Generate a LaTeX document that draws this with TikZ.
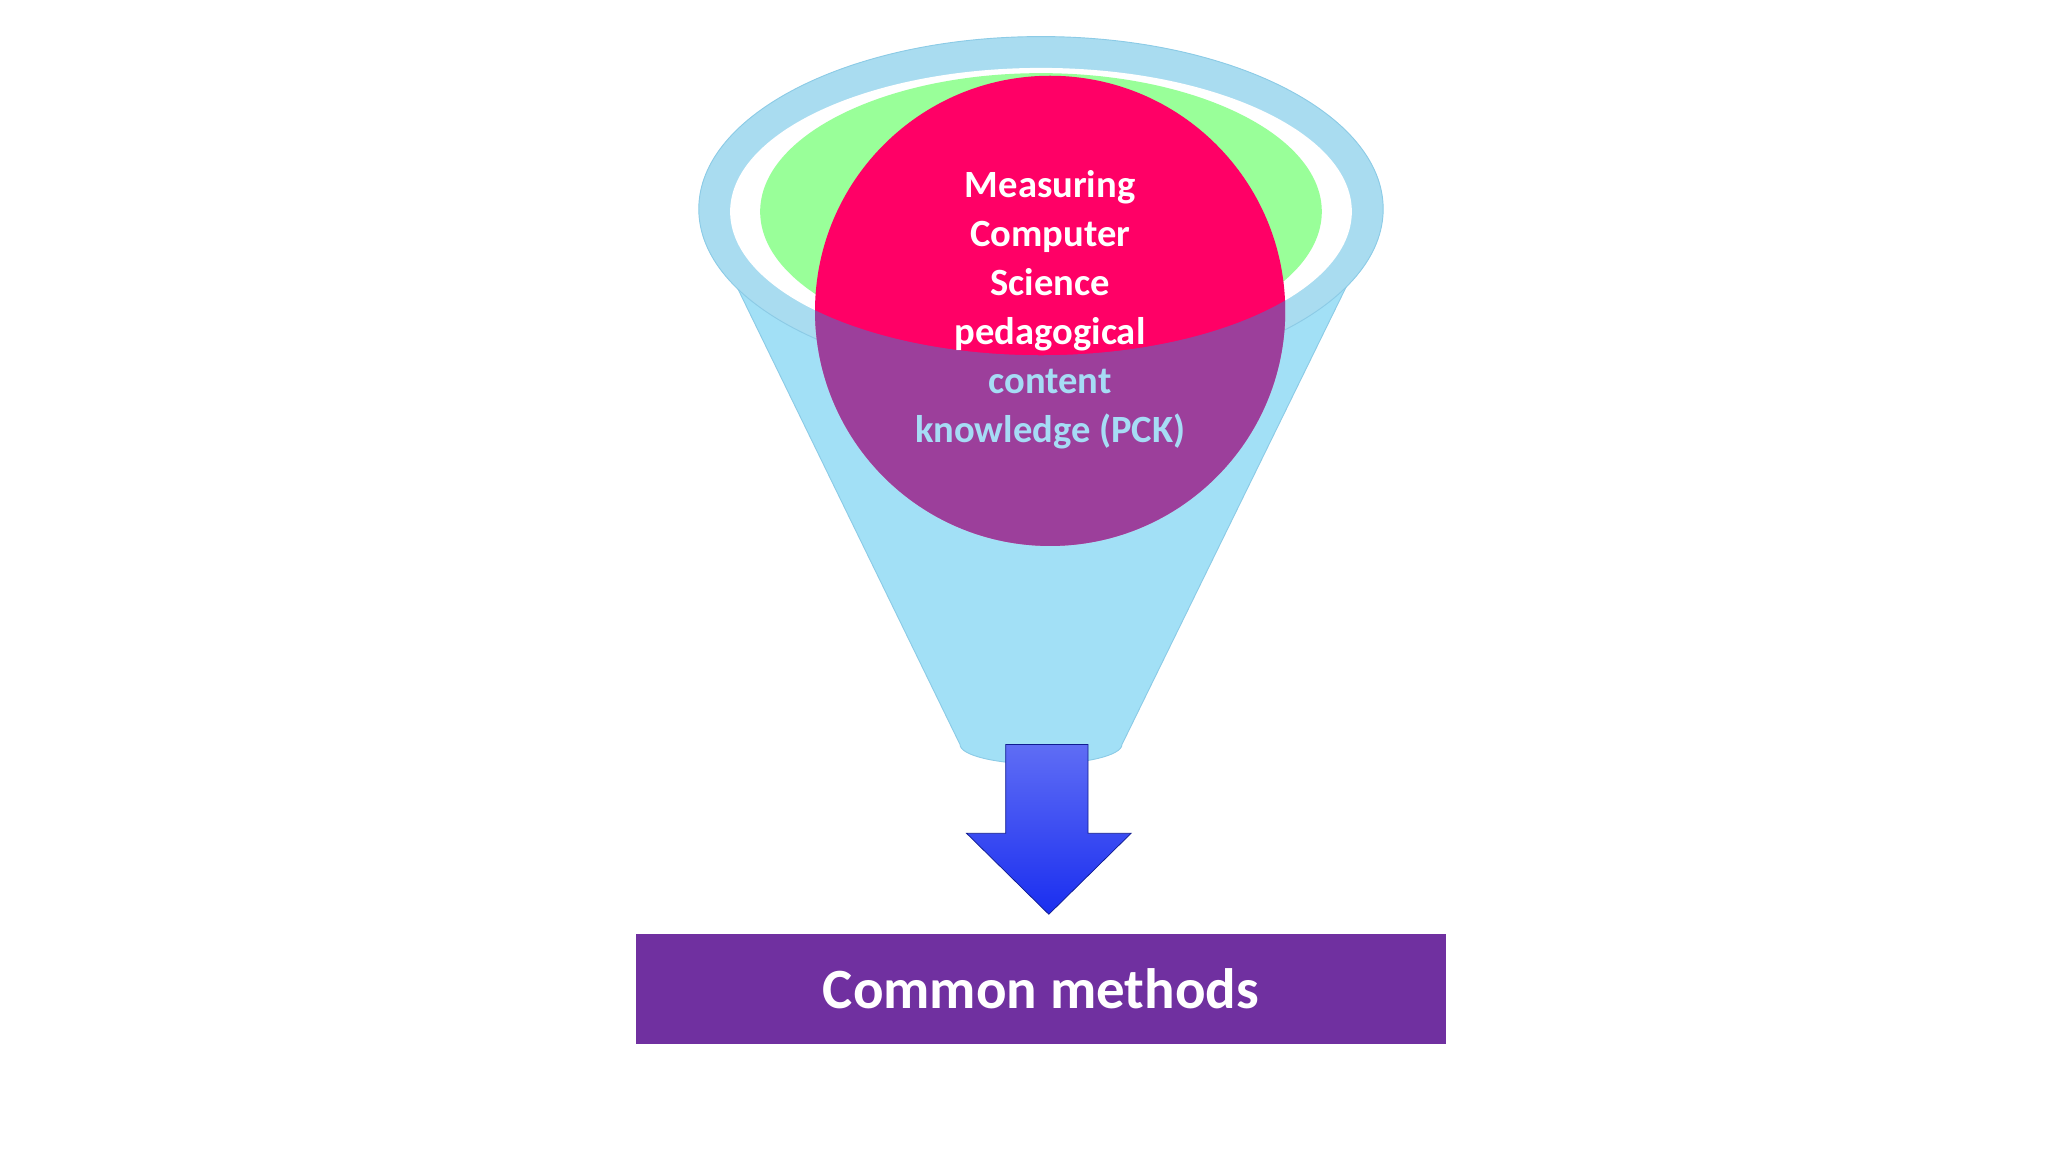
\documentclass[tikz,border=0pt]{standalone}
\usepackage{fontspec}
\setmainfont{Carlito}
\begin{document}
\begin{tikzpicture}[x=0.05cm,y=0.05cm,
 cone/.style={fill=conefill,draw=conedraw,line width=1pt}]
\definecolor{conefill}{HTML}{A2E0F6}
\definecolor{conedraw}{HTML}{8CCBE6}
\definecolor{rim}{HTML}{A9DCF0}
\definecolor{grn}{HTML}{99FF99}
\definecolor{pnk}{HTML}{FF0066}
\definecolor{lb}{HTML}{A6DCF5}
\definecolor{pur}{HTML}{7030A0}
\definecolor{arr}{HTML}{1A2EF0}
\definecolor{ovl}{HTML}{3A7FD0}
\useasboundingbox (0,0) rectangle (1568,882);
\path[cone] (540,712) -- (735,312) arc (180:360:62 and 15) -- (1055,712) -- cycle;
\fill[rim,draw=conedraw,line width=1pt] (797,722) ellipse (262 and 132);
\fill[white] (797,720) ellipse (238 and 110);
\fill[grn] (797,720) ellipse (215 and 106);
\fill[pnk] (804,644) circle (180);
\begin{scope}
 \clip (804,644) circle (180);
 \fill[ovl,opacity=.5]
  (559,720) arc (180:360:238 and 110) -- (1100,720) -- (1100,150) -- (500,150) -- (500,720) -- cycle;
\end{scope}
\node[align=center,font=\bfseries\fontsize{42}{53.5}\selectfont,text=white] (t) at (804,645)
 {Measuring\\Computer\\Science\\pedagogical\\\textcolor{lb}{content}\\\textcolor{lb}{knowledge (PCK)}};
\shade[top color=arr!70!white,bottom color=arr] (770,312) -- (833,312) -- (833,244) -- (866,244) -- (803,182) -- (740,244) -- (770,244) -- cycle;
\draw[arr!60!black,line width=0.8pt] (770,312) -- (833,312) -- (833,244) -- (866,244) -- (803,182) -- (740,244) -- (770,244) -- cycle;
\fill[pur] (487,83) rectangle (1107,167);
\node[text=white,font=\bfseries\fontsize{62}{70}\selectfont] (m) at (797,125) {Common methods};
\end{tikzpicture}
\end{document}
